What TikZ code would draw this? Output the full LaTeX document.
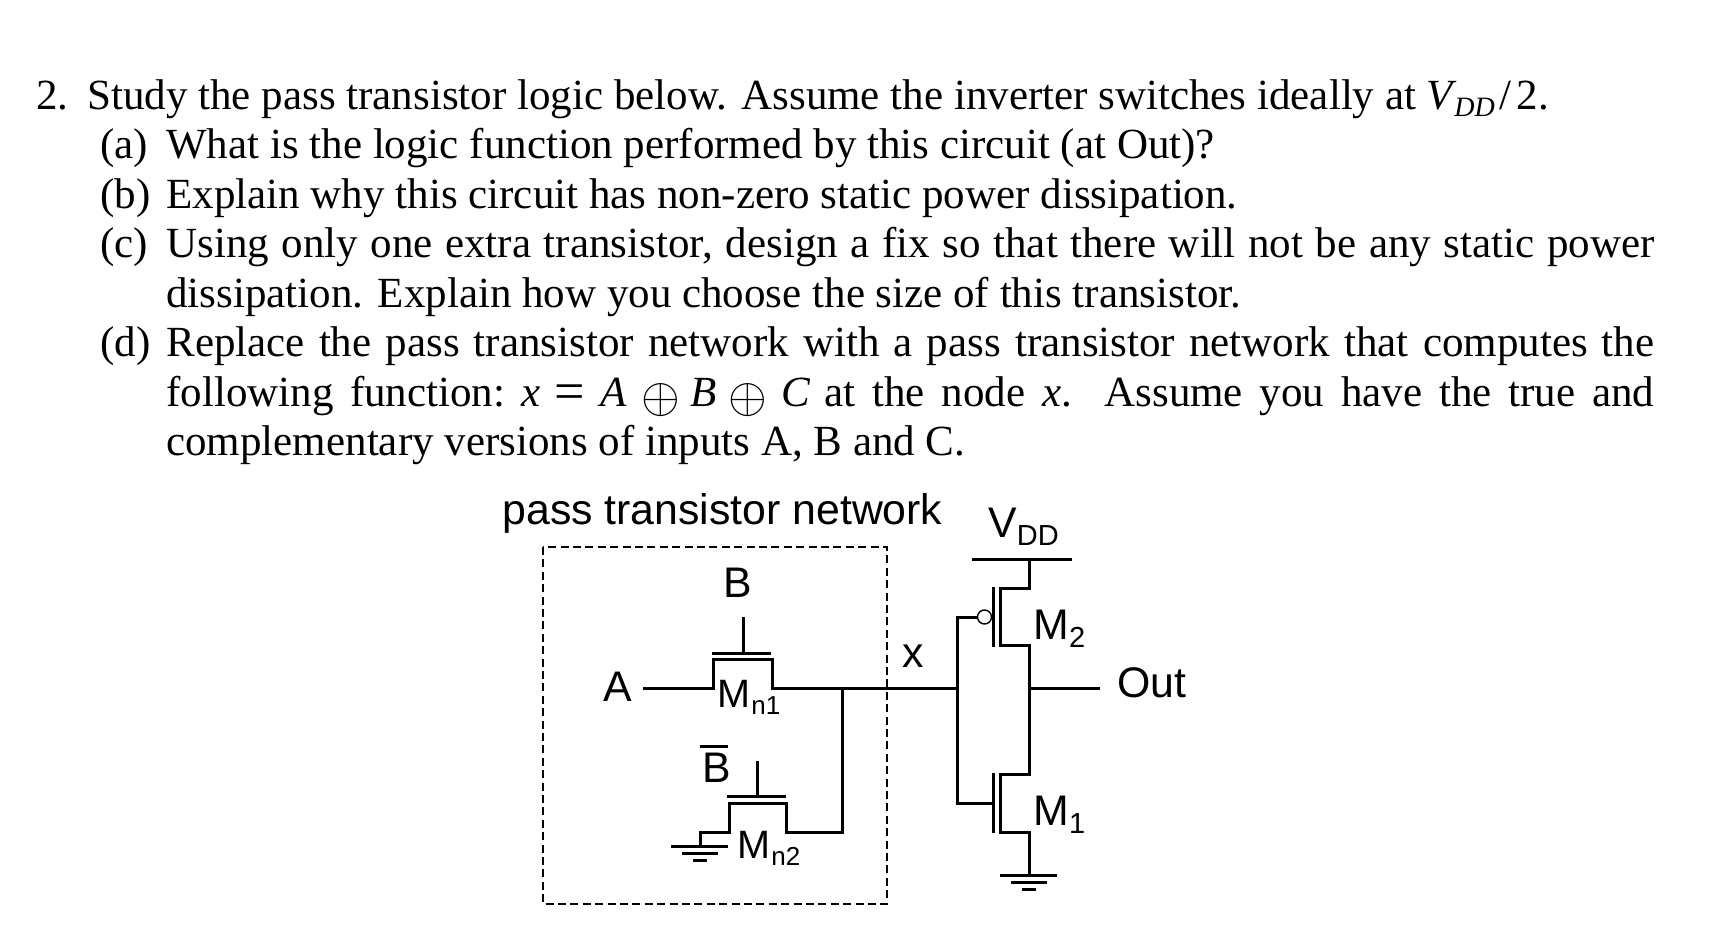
\documentclass[tikz,border=0pt]{standalone}
\usepackage{fontspec}
\setmainfont{Liberation Serif}
\newfontfamily\arial{Liberation Sans}
\newcommand{\qsize}{\fontsize{21.5}{25}\selectfont}
\newcommand{\vdd}{\textit{V}\kern-1.5pt\raisebox{-3.5pt}{\fontsize{14}{18}\selectfont\textit{DD}}\kern2.5pt}
\newcommand{\csub}[1]{\raisebox{-4pt}{\fontsize{14.5}{16}\selectfont #1}}
\newcommand{\nsub}[1]{\kern0.5pt\raisebox{-3.5pt}{\fontsize{13}{15}\selectfont #1}}
\tikzset{
  qtext/.style={anchor=base west,inner sep=0pt,font=\qsize},
  oxornode/.style={anchor=center,inner sep=0pt,font=\fontsize{28.5}{30}\selectfont},
  eqnode/.style={anchor=base,inner sep=0pt,font=\fontsize{27}{30}\selectfont},
  ctext/.style={anchor=base west,inner sep=0pt,font=\arial\fontsize{21.4}{25}\selectfont},
  mntext/.style={anchor=base west,inner sep=0pt,font=\arial\fontsize{19.8}{25}\selectfont},
  clabel/.style={anchor=base,inner sep=0pt,font=\arial\fontsize{21.4}{25}\selectfont},
  wire/.style={line width=1.5pt,line join=miter,line cap=butt},
  frame/.style={line width=0.7pt,dash pattern=on 4pt off 2.2pt},
  bubble/.style={circle,draw,line width=0.7pt,fill=white,minimum size=7pt,inner sep=0pt}
}
\begin{document}
\begin{tikzpicture}[x=0.5pt,y=-0.5pt]
\useasboundingbox (0,0) rectangle (1724,946);
% question text
\node[qtext] (l0) at (36,109.5) {2.};
\node[qtext] (l1) at (87,109.5) {Study the pass transistor logic below. Assume the inverter switches ideally at \vdd/\kern2.5pt 2.};
\node[qtext] (a) at (100,158.5) {(a)};
\node[qtext] (la) at (166,158.5) {What is the logic function performed by this circuit (at Out)?};
\node[qtext] (b) at (100,208.5) {(b)};
\node[qtext] (lb) at (166,208.5) {Explain why this circuit has non-zero static power dissipation.};
\node[qtext] (c) at (100,257.5) {(c)};
\node[qtext] (lc1) at (166,257.5) {\makebox[744pt][s]{Using only one extra transistor, design a fix so that there will not be any static power}};
\node[qtext] (lc2) at (166,307.5) {dissipation. Explain how you choose the size of this transistor.};
\node[qtext] (d) at (100,356.5) {(d)};
\node[qtext] (ld1) at (166,356.5) {\makebox[744pt][s]{Replace the pass transistor network with a pass transistor network that computes the}};
\node[qtext] (ld2a) at (166,406.5) {\makebox[169.5pt][s]{following function:}};
\node[qtext] (ld2x) at (521,406.5) {\textit{x}};
\node[eqnode] (ld2e) at (570,409.5) {=};
\node[qtext] (ld2A) at (600,406.5) {\textit{A}};
\node[oxornode] (ld2o1) at (661,400.5) {$\oplus$};
\node[qtext] (ld2B) at (690,406.5) {\textit{B}};
\node[oxornode] (ld2o2) at (747.5,400.5) {$\oplus$};
\node[qtext] (ld2C) at (781,406.5) {\textit{C}};
\node[qtext] (ld2b) at (824,406.5) {\makebox[415pt][s]{at the node \textit{x}. Assume you have the true and}};
\node[qtext] (ld3) at (166,455.5) {complementary versions of inputs A, B and C.};
% circuit labels
\node[ctext] (ptn) at (502,524) {pass transistor network};
\node[clabel] (lB) at (738,597) {B};
\node[clabel] (lA) at (618,701) {A};
\node[clabel] (lBb) at (717,782) {B};
\node[clabel] (lx) at (913,667) {x};
\node[ctext] (lVDD) at (988,538) {V\raisebox{-4pt}{\fontsize{14.5}{16}\selectfont DD}};
\node[ctext] (lOut) at (1117,697) {Out};
\node[mntext] (lMn1) at (717,707) {M\nsub{n1}};
\node[mntext] (lMn2) at (737,858) {M\nsub{n2}};
\node[ctext] (lM2) at (1033,639) {M\csub{2}};
\node[ctext] (lM1) at (1033,825) {M\csub{1}};
% frame
\coordinate (f1) at (543,547); \coordinate (f2) at (887,904);
\draw[frame] (f1) rectangle (f2);
% named points
\coordinate (inA) at (643,688);
\coordinate (n1l) at (713,688); \coordinate (n1lt) at (713,659);
\coordinate (n1r) at (772,688); \coordinate (n1rt) at (772,659);
\coordinate (g1t) at (743,617); \coordinate (g1b) at (743,653);
\coordinate (p1l) at (712,653); \coordinate (p1r) at (771,653);
\coordinate (jx) at (842,688); \coordinate (jxb) at (842,832);
\coordinate (n2r) at (786,832); \coordinate (n2rt) at (786,803);
\coordinate (n2l) at (729,832); \coordinate (n2lt) at (729,803);
\coordinate (gnd1a) at (700,832); \coordinate (gnd1b) at (700,846);
\coordinate (g2t) at (757,761); \coordinate (g2b) at (757,796);
\coordinate (p2l) at (727,796); \coordinate (p2r) at (786,796);
\coordinate (invin) at (957,688);
\coordinate (vl) at (972,559); \coordinate (vr) at (1072,559); \coordinate (vs) at (1029,559);
\coordinate (m2a) at (1029,588); \coordinate (m2b) at (1000,588);
\coordinate (m2c) at (1000,645); \coordinate (m2d) at (1029,645);
\coordinate (m1a) at (1029,774); \coordinate (m1b) at (1000,774);
\coordinate (m1c) at (1000,832); \coordinate (m1d) at (1029,832);
\coordinate (gnd2) at (1029,875);
\coordinate (pg2t) at (993,587); \coordinate (pg2b) at (993,647);
\coordinate (ng1t) at (993,773); \coordinate (ng1b) at (993,833);
\coordinate (it) at (957,617); \coordinate (ib) at (957,803); \coordinate (ig) at (993,803);
\coordinate (outa) at (1029,688); \coordinate (outb) at (1100,688);
\coordinate (ga1) at (671,846); \coordinate (ga2) at (728,846);
\coordinate (ga3) at (682,853); \coordinate (ga4) at (718,853);
\coordinate (ga5) at (693,860); \coordinate (ga6) at (707,860);
\coordinate (gb1) at (1000,875); \coordinate (gb2) at (1057,875);
\coordinate (gb3) at (1011,882); \coordinate (gb4) at (1047,882);
\coordinate (gb5) at (1022,889); \coordinate (gb6) at (1036,889);
\coordinate (ov1) at (700,746); \coordinate (ov2) at (728,746);
\node[bubble] (bub) at (984.5,617) {};
% wires
\draw[wire] (inA) -- (n1l) -- (n1lt) -- (n1rt) -- (n1r) -- (invin);
\draw[wire] (g1t) -- (g1b);
\draw[wire] (p1l) -- (p1r);
\draw[wire] (jx) -- (jxb) -- (n2r) -- (n2rt) -- (n2lt) -- (n2l) -- (gnd1a) -- (gnd1b);
\draw[wire] (g2t) -- (g2b);
\draw[wire] (p2l) -- (p2r);
\draw[wire] (ga1) -- (ga2);
\draw[wire] (ga3) -- (ga4);
\draw[wire] (ga5) -- (ga6);
\draw[wire] (vl) -- (vr);
\draw[wire] (vs) -- (m2a) -- (m2b) -- (m2c) -- (m2d) -- (m1a) -- (m1b) -- (m1c) -- (m1d) -- (gnd2);
\draw[wire] (pg2t) -- (pg2b);
\draw[wire] (ng1t) -- (ng1b);
\draw[wire] (bub.west) -- (it) -- (ib) -- (ig);
\draw[wire] (outa) -- (outb);
\draw[wire] (gb1) -- (gb2);
\draw[wire] (gb3) -- (gb4);
\draw[wire] (gb5) -- (gb6);
\draw[wire] (ov1) -- (ov2);
\end{tikzpicture}
\end{document}
